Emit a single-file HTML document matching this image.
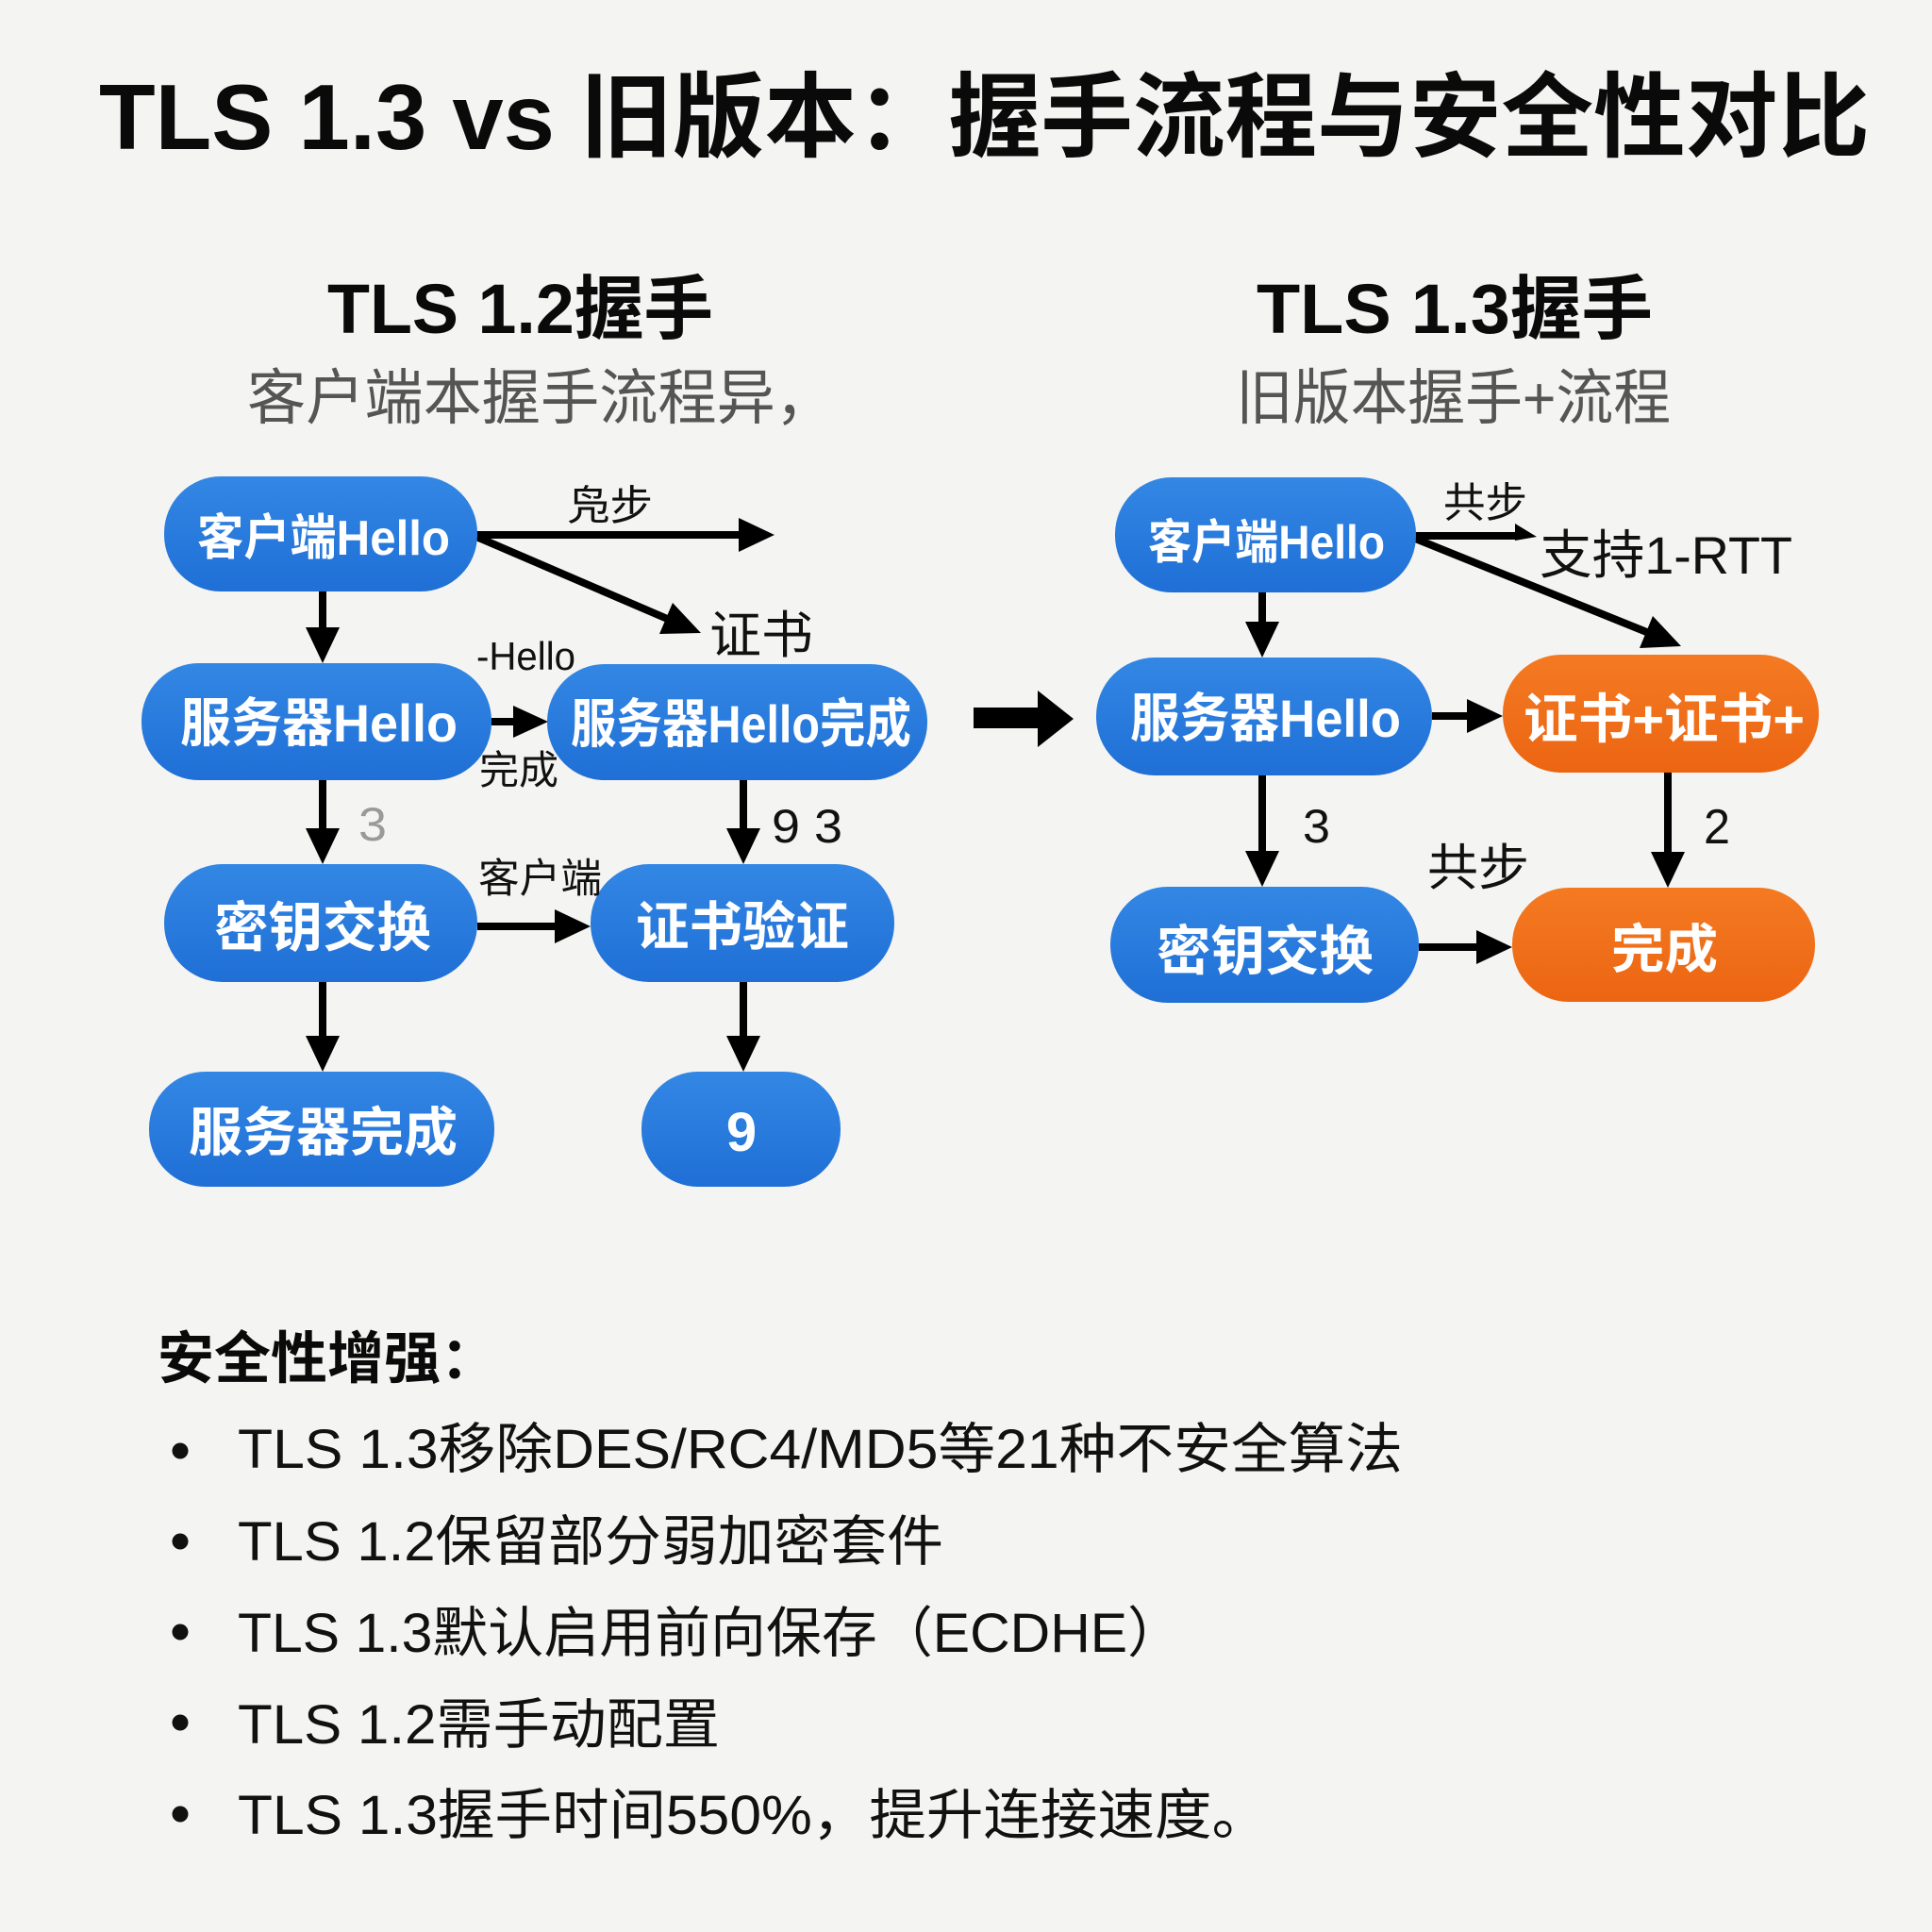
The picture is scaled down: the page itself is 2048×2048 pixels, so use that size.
<!DOCTYPE html>
<html>
<head>
<meta charset="utf-8">
<style>
html,body{margin:0;padding:0;background:#f4f4f2;}
svg{display:block;}
text{font-family:"Liberation Sans","Noto Sans CJK SC",sans-serif;}
.nt{fill:#ffffff;font-weight:700;}
.lb{fill:#111111;}
</style>
</head>
<body>
<svg width="2048" height="2048" viewBox="0 0 2048 2048" xmlns="http://www.w3.org/2000/svg">
<defs>
<linearGradient id="blue" x1="0" y1="0" x2="0" y2="1">
<stop offset="0" stop-color="#3387e4"/>
<stop offset="1" stop-color="#1f6fd6"/>
</linearGradient>
<linearGradient id="orange" x1="0" y1="0" x2="0" y2="1">
<stop offset="0" stop-color="#f47a22"/>
<stop offset="1" stop-color="#ec6512"/>
</linearGradient>
</defs>
<rect x="0" y="0" width="2048" height="2048" fill="#f4f4f2"/>

<!-- Title -->
<text x="105" y="158" font-size="98" font-weight="700" fill="#0a0a0a" textLength="1877" lengthAdjust="spacingAndGlyphs">TLS 1.3 vs 旧版本：握手流程与安全性对比</text>

<!-- Section headings -->
<text x="347" y="353" font-size="74" font-weight="700" fill="#0a0a0a" textLength="409" lengthAdjust="spacingAndGlyphs">TLS 1.2握手</text>
<text x="262" y="444" font-size="64" fill="#555555" textLength="622" lengthAdjust="spacingAndGlyphs">客户端本握手流程异，</text>
<text x="1332" y="353" font-size="74" font-weight="700" fill="#0a0a0a" textLength="420" lengthAdjust="spacingAndGlyphs">TLS 1.3握手</text>
<text x="1310" y="444" font-size="64" fill="#555555" textLength="461" lengthAdjust="spacingAndGlyphs">旧版本握手+流程</text>

<!-- ===== Left diagram arrows ===== -->
<g stroke="#000" stroke-width="8" fill="none">
<!-- verticals -->
<line x1="342" y1="627" x2="342" y2="673"/>
<line x1="342" y1="827" x2="342" y2="886"/>
<line x1="342" y1="1041" x2="342" y2="1106"/>
<line x1="788" y1="827" x2="788" y2="886"/>
<line x1="788" y1="1041" x2="788" y2="1106"/>
<!-- horizontals -->
<line x1="521" y1="765" x2="552" y2="765"/>
<line x1="506" y1="982" x2="596" y2="982"/>
<line x1="505" y1="567" x2="791" y2="567"/>
<!-- diagonal -->
<line x1="505" y1="569" x2="712" y2="658"/>
</g>
<g fill="#000">
<polygon points="324,665 360,665 342,703"/>
<polygon points="324,878 360,878 342,916"/>
<polygon points="324,1098 360,1098 342,1136"/>
<polygon points="770,878 806,878 788,916"/>
<polygon points="770,1098 806,1098 788,1136"/>
<polygon points="544,748 544,782 581,765"/>
<polygon points="588,964 588,1000 626,982"/>
<polygon points="783,549 783,585 821,567"/>
<polygon points="743,671 713,639 699,672"/>
</g>

<!-- ===== Right diagram arrows ===== -->
<g stroke="#000" stroke-width="8" fill="none">
<line x1="1338" y1="628" x2="1338" y2="667"/>
<line x1="1338" y1="821" x2="1338" y2="910"/>
<line x1="1768" y1="819" x2="1768" y2="911"/>
<line x1="1518" y1="759" x2="1563" y2="759"/>
<line x1="1504" y1="1004" x2="1573" y2="1004"/>
<line x1="1498" y1="568" x2="1612" y2="568"/>
<line x1="1498" y1="570" x2="1748" y2="671"/>
</g>
<g fill="#000">
<polygon points="1320,659 1356,659 1338,697"/>
<polygon points="1320,902 1356,902 1338,940"/>
<polygon points="1750,903 1786,903 1768,941"/>
<polygon points="1555,741 1555,777 1593,759"/>
<polygon points="1565,986 1565,1022 1603,1004"/>
<polygon points="1606,555 1629,569 1606,573"/>
<polygon points="1782,685 1752,653 1738,687"/>
<!-- big middle arrow -->
<polygon points="1032,750 1100,750 1100,732 1138,762 1100,792 1100,772 1032,772"/>
</g>

<!-- ===== Left nodes ===== -->
<rect x="174" y="505" width="332" height="122" rx="60" fill="url(#blue)"/>
<rect x="150" y="703" width="371" height="124" rx="61" fill="url(#blue)"/>
<rect x="580" y="704" width="403" height="123" rx="61" fill="url(#blue)"/>
<rect x="174" y="916" width="332" height="125" rx="62" fill="url(#blue)"/>
<rect x="626" y="916" width="322" height="125" rx="62" fill="url(#blue)"/>
<rect x="158" y="1136" width="366" height="122" rx="60" fill="url(#blue)"/>
<rect x="680" y="1136" width="211" height="122" rx="60" fill="url(#blue)"/>

<text class="nt" x="209" y="588" font-size="52" textLength="268" lengthAdjust="spacingAndGlyphs">客户端Hello</text>
<text class="nt" x="191" y="786" font-size="56" textLength="294" lengthAdjust="spacingAndGlyphs">服务器Hello</text>
<text class="nt" x="605" y="787" font-size="56" textLength="361" lengthAdjust="spacingAndGlyphs">服务器Hello完成</text>
<text class="nt" x="227" y="1003" font-size="57" textLength="230" lengthAdjust="spacingAndGlyphs">密钥交换</text>
<text class="nt" x="674" y="1002" font-size="56" textLength="226" lengthAdjust="spacingAndGlyphs">证书验证</text>
<text class="nt" x="200" y="1220" font-size="56" textLength="285" lengthAdjust="spacingAndGlyphs">服务器完成</text>
<text class="nt" x="786" y="1220" font-size="58" text-anchor="middle">9</text>

<!-- ===== Right nodes ===== -->
<rect x="1182" y="506" width="319" height="122" rx="60" fill="url(#blue)"/>
<rect x="1162" y="697" width="356" height="125" rx="62" fill="url(#blue)"/>
<rect x="1593" y="694" width="335" height="125" rx="62" fill="url(#orange)"/>
<rect x="1177" y="940" width="327" height="123" rx="61" fill="url(#blue)"/>
<rect x="1603" y="941" width="321" height="121" rx="60" fill="url(#orange)"/>

<text class="nt" x="1217" y="592" font-size="50" textLength="251" lengthAdjust="spacingAndGlyphs">客户端Hello</text>
<text class="nt" x="1198" y="781" font-size="56" textLength="287" lengthAdjust="spacingAndGlyphs">服务器Hello</text>
<text class="nt" x="1615" y="782" font-size="57" textLength="298" lengthAdjust="spacingAndGlyphs">证书+证书+</text>
<text class="nt" x="1226" y="1028" font-size="57" textLength="230" lengthAdjust="spacingAndGlyphs">密钥交换</text>
<text class="nt" x="1708" y="1026" font-size="56" textLength="113" lengthAdjust="spacingAndGlyphs">完成</text>

<!-- ===== Labels ===== -->
<text class="lb" x="601" y="551" font-size="44" textLength="91" lengthAdjust="spacingAndGlyphs">凫步</text>
<text class="lb" x="752" y="692" font-size="54" textLength="110" lengthAdjust="spacingAndGlyphs">证书</text>
<text class="lb" x="505" y="710" font-size="42" textLength="105" lengthAdjust="spacingAndGlyphs">-Hello</text>
<text class="lb" x="508" y="831" font-size="42" textLength="84" lengthAdjust="spacingAndGlyphs">完成</text>
<text x="380" y="891" font-size="50" fill="#9a9a9a" textLength="30" lengthAdjust="spacingAndGlyphs">3</text>
<text class="lb" x="818" y="893" font-size="50" textLength="75" lengthAdjust="spacingAndGlyphs">9 3</text>
<text class="lb" x="507" y="946" font-size="43" textLength="131" lengthAdjust="spacingAndGlyphs">客户端</text>

<text class="lb" x="1530" y="548" font-size="44" textLength="89" lengthAdjust="spacingAndGlyphs">共步</text>
<text class="lb" x="1632" y="608" font-size="56" textLength="268" lengthAdjust="spacingAndGlyphs">支持1-RTT</text>
<text class="lb" x="1381" y="893" font-size="50" textLength="29" lengthAdjust="spacingAndGlyphs">3</text>
<text class="lb" x="1806" y="894" font-size="52" textLength="28" lengthAdjust="spacingAndGlyphs">2</text>
<text class="lb" x="1513" y="938" font-size="53" textLength="108" lengthAdjust="spacingAndGlyphs">共步</text>

<!-- ===== Bottom section ===== -->
<text x="167" y="1461" font-size="60" font-weight="700" fill="#0a0a0a">安全性增强：</text>

<g fill="#111">
<circle cx="191" cy="1538" r="8.5"/>
<circle cx="191" cy="1634" r="8.5"/>
<circle cx="191" cy="1730" r="8.5"/>
<circle cx="191" cy="1826" r="8.5"/>
<circle cx="191" cy="1923" r="8.5"/>
</g>
<text class="lb" x="252" y="1556" font-size="58" textLength="1235" lengthAdjust="spacingAndGlyphs">TLS 1.3移除DES/RC4/MD5等21种不安全算法</text>
<text class="lb" x="252" y="1654" font-size="58" textLength="748" lengthAdjust="spacingAndGlyphs">TLS 1.2保留部分弱加密套件</text>
<text class="lb" x="252" y="1751" font-size="58" textLength="1002" lengthAdjust="spacingAndGlyphs">TLS 1.3默认启用前向保存（ECDHE）</text>
<text class="lb" x="252" y="1848" font-size="58" textLength="511" lengthAdjust="spacingAndGlyphs">TLS 1.2需手动配置</text>
<text class="lb" x="252" y="1944" font-size="58" textLength="1093" lengthAdjust="spacingAndGlyphs">TLS 1.3握手时间550%，提升连接速度。</text>
</svg>
</body>
</html>
